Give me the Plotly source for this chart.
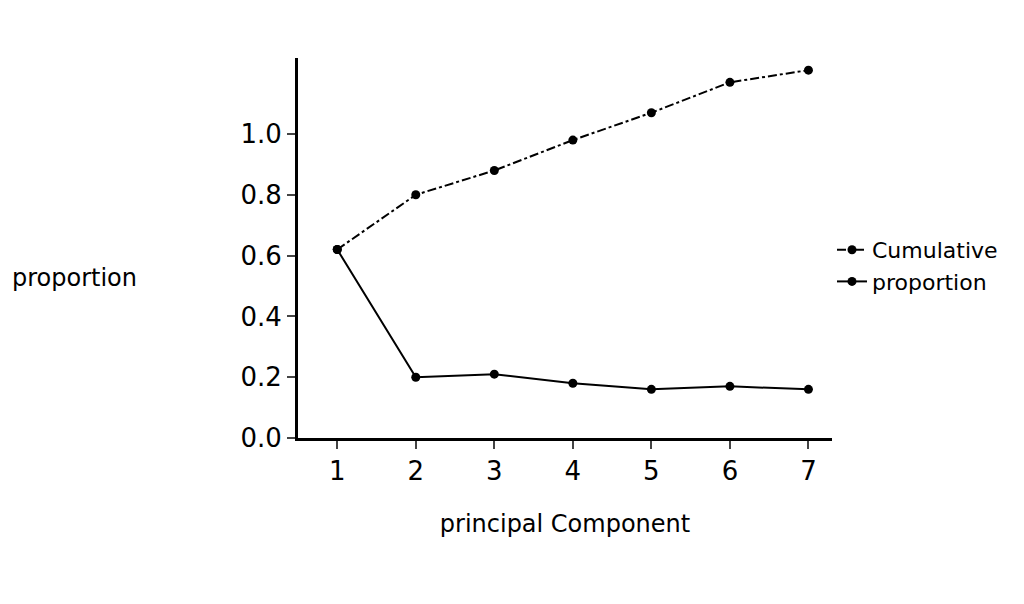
import plotly.graph_objects as go

components = [1, 2, 3, 4, 5, 6, 7]
proportion = [0.62, 0.20, 0.21, 0.18, 0.16, 0.17, 0.16]
cumulative = [0.62, 0.80, 0.88, 0.98, 1.07, 1.17, 1.21]
y_ticks = [0.0, 0.2, 0.4, 0.6, 0.8, 1.0]

fig = go.Figure()
fig.add_trace(go.Scatter(x=components, y=cumulative, mode="lines+markers", name="Cumulative",
                         line=dict(color="black", width=2, dash="dashdot"),
                         marker=dict(color="black", size=9)))
fig.add_trace(go.Scatter(x=components, y=proportion, mode="lines+markers", name="proportion",
                         line=dict(color="black", width=2),
                         marker=dict(color="black", size=9)))
fig.update_layout(
    width=1024, height=604, plot_bgcolor="white", paper_bgcolor="white",
    font=dict(family="DejaVu Sans", size=26, color="black"),
    margin=dict(l=290, r=200, t=50, b=174),
    legend=dict(x=1.0, y=0.55, xanchor="left", yanchor="top", font=dict(size=22)),
)
fig.add_annotation(text="proportion", xref="paper", yref="paper", x=-0.54, y=0.42,
                   showarrow=False, font=dict(size=24), xanchor="left")
fig.update_xaxes(title_text="principal Component", title_font=dict(size=24), title_standoff=30,
                 tickvals=components, range=[0.5, 7.3],
                 showline=True, linecolor="black", linewidth=3, ticks="outside",
                 ticklen=8, tickwidth=2, showgrid=False, zeroline=False)
fig.update_yaxes(tickvals=y_ticks, ticktext=[f"{v:.1f}" for v in y_ticks], range=[0, 1.25],
                 showline=True, linecolor="black", linewidth=3, ticks="outside",
                 ticklen=8, tickwidth=2, showgrid=False, zeroline=False)
fig.write_html("out.html")
